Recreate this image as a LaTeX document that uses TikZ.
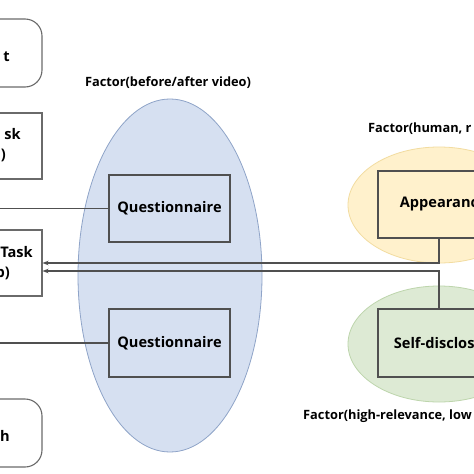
\documentclass[tikz,border=0pt]{standalone}
\usepackage{fontspec}
\setmainfont{Open Sans}
\usetikzlibrary{shapes.geometric,arrows.meta,calc}
\definecolor{bluefill}{HTML}{D6E0F1}
\definecolor{blueline}{HTML}{8FA4C8}
\definecolor{yelfill}{HTML}{FFF1CC}
\definecolor{yelline}{HTML}{F2DCA0}
\definecolor{grnfill}{HTML}{DDEAD4}
\definecolor{grnline}{HTML}{BDD5AC}
\definecolor{boxline}{HTML}{505050}
\definecolor{lboxline}{HTML}{6A6A6A}
\begin{document}
\begin{tikzpicture}[x=1pt,y=-1pt,
  lbl/.style={font=\fontsize{14.6}{20}\selectfont\bfseries, inner sep=0pt, text=black},
  flbl/.style={font=\fontsize{12.8}{16}\selectfont\bfseries, inner sep=0pt, text=black},
  grp/.style={ellipse, inner sep=0pt, line width=0.8pt},
  qbox/.style={draw=boxline, line width=1.1pt, rectangle, inner sep=0pt,
    font=\fontsize{14.6}{20}\selectfont\bfseries, minimum width=121pt},
  lbox/.style={draw=lboxline, line width=1.1pt, fill=white, inner sep=0pt,
    minimum width=142pt, minimum height=66pt},
  rbox/.style={lbox, rounded corners=17pt, minimum height=68pt},
  conn/.style={draw=boxline, line width=1.1pt},
  arr/.style={conn, -{Stealth[length=6pt,width=4.5pt]}}]
\useasboundingbox (0,0) rectangle (474,474);
\clip (0,0) rectangle (474,474);
\fill[white] (0,0) rectangle (474,474);

% group ellipses
\node[grp, fill=bluefill, draw=blueline, minimum width=184pt, minimum height=353pt] (gblue) at (170,275.5) {};
\node[grp, fill=yelfill, draw=yelline, minimum width=182pt, minimum height=116pt] (gyel) at (439,205) {};
\node[grp, fill=grnfill, draw=grnline, minimum width=182pt, minimum height=116pt] (ggrn) at (439,344) {};

% group labels
\node[flbl] (fblue) at (168,83) {Factor(before/after video)};
\node[flbl, anchor=west] (fyel) at (368,129) {Factor(human, r};
\node[flbl, anchor=west] (fgrn) at (303,416) {Factor(high-relevance, low};

% left column boxes
\node[rbox] (start) at (-29,53) {};
\node[lbox] (task1) at (-29,146) {};
\node[lbox] (task2) at (-29,263) {};
\node[rbox] (finish) at (-29,433) {};
\node[lbl, anchor=base east] (t1) at (10,61) {t};
\node[lbl, anchor=base east] (t2a) at (21,139) {sk};
\node[lbl, anchor=base east] (t2b) at (6,159) {)};
\node[lbl, anchor=base east] (t3a) at (33,257) {Task};
\node[lbl, anchor=base east] (t3b) at (10,277) {p)};
\node[lbl, anchor=base east] (t4) at (10,441) {h};

% questionnaires
\node[qbox, minimum height=67pt] (q1) at (169.5,208.5) {Questionnaire};
\node[qbox, minimum height=68pt] (q2) at (169.5,343) {Questionnaire};

% factor boxes
\node[qbox, minimum width=122pt, minimum height=67pt] (app) at (439,204.5) {Appearanc};
\node[qbox, minimum width=122pt, minimum height=68pt] (sd) at (439,343) {Self-disclosu};

% connectors
\coordinate (c1) at (-5,208.5);
\coordinate (c2) at (-5,343);
\draw[conn] (c1) -- (q1.west);
\draw[conn] (c2) -- (q2.west);
\draw[arr] (app.south) |- (task2.east);
\draw[arr] (sd.north) |- ($(task2.east)+(0,8)$);
\end{tikzpicture}
\end{document}
